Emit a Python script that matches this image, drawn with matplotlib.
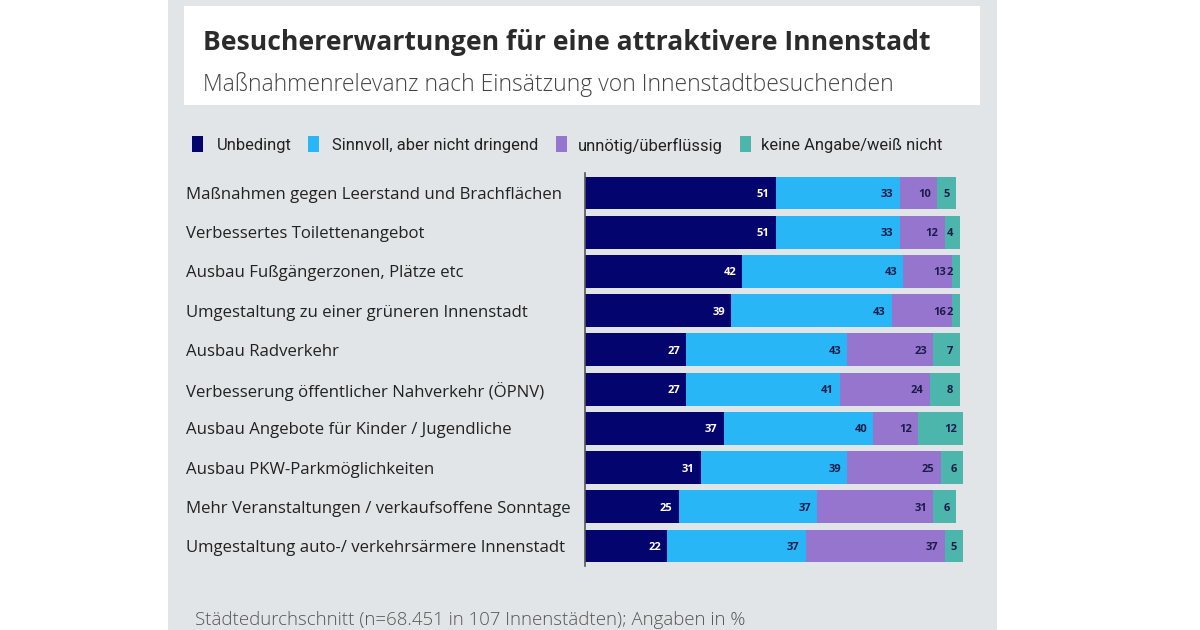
import matplotlib
matplotlib.use("Agg")
import matplotlib.pyplot as plt
from matplotlib.patches import Rectangle
import numpy as np

categories = [
    "Maßnahmen gegen Leerstand und Brachflächen",
    "Verbessertes Toilettenangebot",
    "Ausbau Fußgängerzonen, Plätze etc",
    "Umgestaltung zu einer grüneren Innenstadt",
    "Ausbau Radverkehr",
    "Verbesserung öffentlicher Nahverkehr (ÖPNV)",
    "Ausbau Angebote für Kinder / Jugendliche",
    "Ausbau PKW-Parkmöglichkeiten",
    "Mehr Veranstaltungen / verkaufsoffene Sonntage",
    "Umgestaltung auto-/ verkehrsärmere Innenstadt",
]
unbedingt = [51, 51, 42, 39, 27, 27, 37, 31, 25, 22]
sinnvoll = [33, 33, 43, 43, 43, 41, 40, 39, 37, 37]
unnoetig = [10, 12, 13, 16, 23, 24, 12, 25, 31, 37]
keine = [5, 4, 2, 2, 7, 8, 12, 6, 6, 5]
series_names = ["Unbedingt", "Sinnvoll, aber nicht dringend",
                "unnötig/überflüssig", "keine Angabe/weiß nicht"]
colors = ["#04046e", "#29b6f6", "#9575cd", "#4db6ac"]

W, H = 1200, 630
fig = plt.figure(figsize=(12, 6.3), dpi=100)
fig.patch.set_facecolor("white")

# grey panel
fig.patches.append(Rectangle((168 / W, 0), (997 - 168) / W, 1, transform=fig.transFigure,
                             facecolor="#e2e5e8", edgecolor="none", zorder=-5))
# white title box
fig.patches.append(Rectangle((184 / W, 1 - 105 / H), (980 - 184) / W, (105 - 6) / H,
                             transform=fig.transFigure, facecolor="white",
                             edgecolor="none", zorder=-4))

renderer = fig.canvas.get_renderer()

def fit_text(x, y, s, target_w, size0, **kw):
    t = fig.text(x / W, 1 - y / H, s, fontsize=size0, **kw)
    w = t.get_window_extent(renderer=renderer).width
    t.set_fontsize(size0 * target_w / w)
    return t

fit_text(203, 40, "Besuchererwartungen für eine attraktivere Innenstadt", 727, 18,
         family="Open Sans", weight="bold", color="#2b2b2b", va="center_baseline", ha="left")
fit_text(203, 82, "Maßnahmenrelevanz nach Einsätzung von Innenstadtbesuchenden", 691, 14,
         family="Open Sans", weight="light", color="#444444", va="center_baseline", ha="left")
fit_text(195, 618, "Städtedurchschnitt (n=68.451 in 107 Innenstädten); Angaben in %", 549, 11,
         family="Open Sans", weight="light", color="#555555", va="center_baseline", ha="left")

# legend
sq_x = [192, 308, 556, 740]
tx_x = [217, 332, 578, 761]
tx_w = [75, 205, 144, 181]
for i, name in enumerate(series_names):
    fig.patches.append(Rectangle((sq_x[i] / W, 1 - 152 / H), 11 / W, 16 / H,
                                 transform=fig.transFigure, facecolor=colors[i],
                                 edgecolor="none"))
    fit_text(tx_x[i], 144, name, tx_w[i], 11, family="Roboto",
             color="#222222", va="center_baseline", ha="left")

# axes
top, bot = 173.4, 565.6
pxu = 3.745
xmax = 102
ax = fig.add_axes([585 / W, 1 - bot / H, xmax * pxu / W, (bot - top) / H])
ax.set_facecolor("none")
ax.set_xlim(0, xmax)
n = len(categories)
ax.set_ylim(n - 0.5, -0.5)
y = np.arange(n)
data = [unbedingt, sinnvoll, unnoetig, keine]
left = np.zeros(n)
for i, vals in enumerate(data):
    vals = np.array(vals, dtype=float)
    ax.barh(y, vals, left=left, height=0.84, color=colors[i], edgecolor="none")
    for j in range(n):
        ax.annotate(str(int(vals[j])), xy=(left[j] + vals[j], y[j]), xytext=(-4.5, 0),
                    textcoords="offset points", ha="right", va="center_baseline",
                    fontsize=8, weight="bold", family="Open Sans",
                    annotation_clip=False,
                    color="white" if i == 0 else "#1c1c4a")
    left += vals

for s in ["top", "right", "bottom"]:
    ax.spines[s].set_visible(False)
ax.spines["left"].set_color("#555555")
ax.spines["left"].set_linewidth(1.2)
ax.set_xticks([])
ax.set_yticks([])

cat_texts = []
for j, c in enumerate(categories):
    yy = top + (j + 0.5) * (bot - top) / n
    t = fig.text(186 / W, 1 - yy / H, c, fontsize=11, family="Open Sans",
                 color="#222222", va="center_baseline", ha="left")
    cat_texts.append(t)
w0 = cat_texts[0].get_window_extent(renderer=renderer).width
fs = 11 * 378 / w0
for t in cat_texts:
    t.set_fontsize(fs)

fig.savefig("out.png", dpi=100, facecolor=fig.get_facecolor())
